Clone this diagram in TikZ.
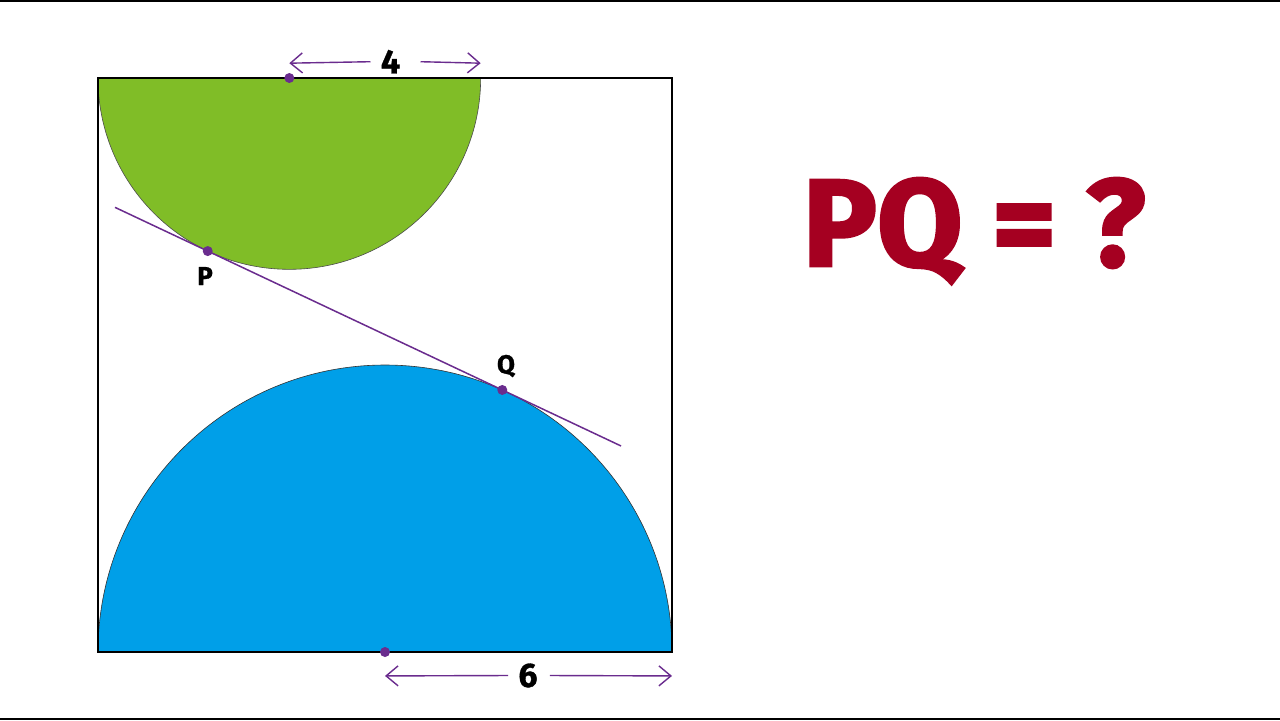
\documentclass[tikz,border=0pt]{standalone}
\usepackage{fontspec}
\setmainfont{Fira Sans}
\newfontfamily\titlefont[BoldFeatures={FakeBold=2.2}]{Fira Sans}
\newfontfamily\labelfont[BoldFeatures={FakeBold=1}]{Fira Sans}
\usetikzlibrary{arrows.meta}
\definecolor{greenfill}{RGB}{128,189,39}
\definecolor{bluefill}{RGB}{0,159,232}
\definecolor{purp}{RGB}{106,44,142}
\definecolor{titlered}{RGB}{165,0,33}
\tikzset{
  dimline/.style={purp, line width=0.7pt, -{Straight Barb[length=6pt,width=10pt,line width=0.7pt]}},
  ptdot/.style={circle, fill=purp, inner sep=0pt, minimum size=5pt},
  lbl/.style={font=\labelfont\bfseries\fontsize{13}{13}\selectfont, inner sep=0pt},
  numlbl/.style={font=\labelfont\bfseries\fontsize{17}{17}\selectfont, inner sep=0pt},
}
\begin{document}
\begin{tikzpicture}[x=0.5pt,y=-0.5pt]
\useasboundingbox (0,0) rectangle (1280,720);
\fill[white] (0,0) rectangle (1280,720);
\draw[black, line width=1.2pt] (0,0.8) -- (1280,0.8);
\draw[black, line width=1.2pt] (0,719.2) -- (1280,719.2);
\begin{scope}[shift={(98,652)}, x=23.9167pt, y=23.9167pt]
  \coordinate (SQ1) at (0,0);
  \coordinate (SQ2) at (12,12);
  \coordinate (G) at (4,12);
  \coordinate (B) at (6,0);
  \coordinate (P) at (2.294,8.382);
  \coordinate (Q) at (8.452,5.478);
  \coordinate (L1) at (0.355,9.296);
  \coordinate (L2) at (10.935,4.307);
  \fill[greenfill, draw=black!70, line width=0.3pt] (0,12) arc[start angle=180, end angle=360, radius=4] -- cycle;
  \fill[bluefill, draw=black!80, line width=0.3pt] (0,0) arc[start angle=180, end angle=0, radius=6] -- cycle;
  \draw[black, line width=1.4pt] (SQ1) rectangle (SQ2);
  \draw[purp, line width=0.75pt] (L1) -- (L2);
  \node[ptdot] (dG) at (G) {};
  \node[ptdot] (dB) at (B) {};
  \node[ptdot] (dP) at (P) {};
  \node[ptdot] (dQ) at (Q) {};
  \coordinate (A4L) at (4,12.31);
  \coordinate (A4R) at (8,12.31);
  \coordinate (A6L) at (6,-0.5);
  \coordinate (A6R) at (12,-0.5);
\end{scope}
\node[lbl] (tP) at (205,276) {P};
\node[lbl] (tQ) at (506,366) {Q};
\node[numlbl] (n4) at (390.5,61.7) {4};
\node[numlbl] (n6) at (528,675.5) {6};
\draw[dimline] ([xshift=-5pt]n4.west) -- (A4L);
\draw[dimline] ([xshift=10pt]n4.east) -- (A4R);
\draw[dimline] ([xshift=-5pt]n6.west) -- (A6L);
\draw[dimline] ([xshift=6pt]n6.east) -- (A6R);
\node[titlered, font=\titlefont\bfseries\fontsize{62}{62}\selectfont, inner sep=0pt, anchor=base] (title) at (974,266) {PQ = ?};
\end{tikzpicture}
\end{document}
